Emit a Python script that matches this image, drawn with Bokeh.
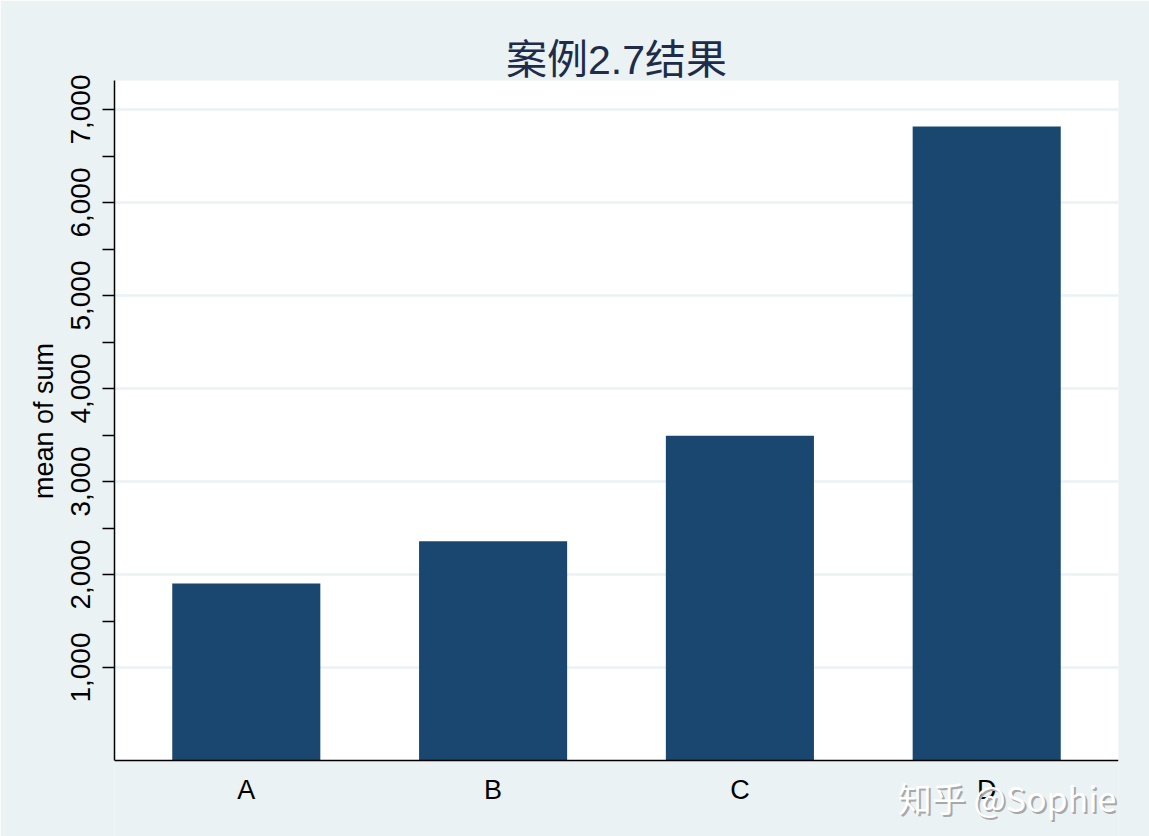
from bokeh.plotting import figure
from bokeh.models import (Range1d, FixedTicker, NumeralTickFormatter, Label, ColumnDataSource,
                          LinearAxis, BoxAnnotation, Grid)
from bokeh.embed import file_html
from bokeh.resources import INLINE

# ---- data ----
categories = ["A", "B", "C", "D"]
positions = [1, 2, 3, 4]
mean_sum = [1903, 2358, 3491, 6817]
y_major_ticks = [1000, 2000, 3000, 4000, 5000, 6000, 7000]
y_minor_ticks = [1500, 2500, 3500, 4500, 5500, 6500]
title_text = "案例2.7结果"
y_label = "mean of sum"
watermark = "知乎 @Sophie"

BG = "#eaf2f3"
BAR = "#1a476f"

p = figure(width=1149, height=836, output_backend="svg", toolbar_location=None,
           x_range=Range1d(0.466, 4.534), y_range=Range1d(-817, 7312),
           x_axis_location=None,
           min_border_left=114, min_border_right=31, min_border_top=80, min_border_bottom=0)

p.border_fill_color = BG
p.background_fill_color = BG
p.outline_line_color = None

p.title.text = title_text
p.title.align = "center"
p.title.text_font = "Liberation Sans, Noto Sans CJK SC"
p.title.text_font_size = "41px"
p.title.text_font_style = "normal"
p.title.text_color = "#1e2b4a"
p.title.standoff = -4

# white plot region above the baseline
p.xgrid.visible = False
p.ygrid.visible = False
p.add_layout(BoxAnnotation(bottom=0, fill_color="white", fill_alpha=1.0, line_color=None, level="underlay"))
p.add_layout(Grid(dimension=1, ticker=FixedTicker(ticks=y_major_ticks), grid_line_color=BG,
                  grid_line_width=2.5, level="underlay"))

src = ColumnDataSource(dict(x=positions, top=mean_sum))
p.vbar(x="x", top="top", width=0.6, source=src, fill_color=BAR, line_color=None)

# x axis at value 0
xa = LinearAxis(fixed_location=0)
xa.ticker = FixedTicker(ticks=positions)
xa.major_label_overrides = {pos: c for pos, c in zip(positions, categories)}
xa.major_tick_out = 0
xa.major_tick_in = 0
xa.minor_tick_out = 0
xa.minor_tick_in = 0
xa.axis_line_color = "black"
xa.axis_line_width = 1.5
xa.major_label_text_font = "Liberation Sans"
xa.major_label_text_font_size = "27px"
xa.major_label_text_color = "black"
xa.major_label_standoff = 14
p.add_layout(xa, "below")

# y axis
ya = p.yaxis[0]
ya.bounds = (0, 7312)
ya.ticker = FixedTicker(ticks=y_major_ticks, minor_ticks=y_minor_ticks)
ya.formatter = NumeralTickFormatter(format="0,0")
ya.major_label_orientation = "vertical"
ya.major_tick_out = 12
ya.major_tick_in = 0
ya.minor_tick_out = 12
ya.minor_tick_in = 0
ya.major_tick_line_width = 1.5
ya.minor_tick_line_width = 1.5
ya.axis_line_color = "black"
ya.axis_line_width = 1.5
ya.major_label_text_font = "Liberation Sans"
ya.major_label_text_font_size = "28px"
ya.major_label_text_color = "black"
ya.major_label_standoff = 12
# leading no-break spaces keep the label centred on the 0..7312 span
ya.axis_label = "\u00a0" * 10 + y_label
ya.axis_label_text_font = "Liberation Sans"
ya.axis_label_text_font_size = "27px"
ya.axis_label_text_font_style = "normal"
ya.axis_label_text_color = "black"
ya.axis_label_standoff = 10

# watermark
shadow = Label(x=3.64, y=-398, text=watermark, text_font="Noto Sans CJK SC",
               text_font_size="34px", text_color="#a8a8a8", text_font_style="normal",
               text_baseline="alphabetic", x_offset=2, y_offset=-2, level="overlay")
front = Label(x=3.64, y=-398, text=watermark, text_font="Noto Sans CJK SC",
              text_font_size="34px", text_color="white", text_font_style="normal",
              text_baseline="alphabetic", level="overlay")
p.add_layout(shadow)
p.add_layout(front)

open("out.html", "w").write(file_html(p, INLINE))
